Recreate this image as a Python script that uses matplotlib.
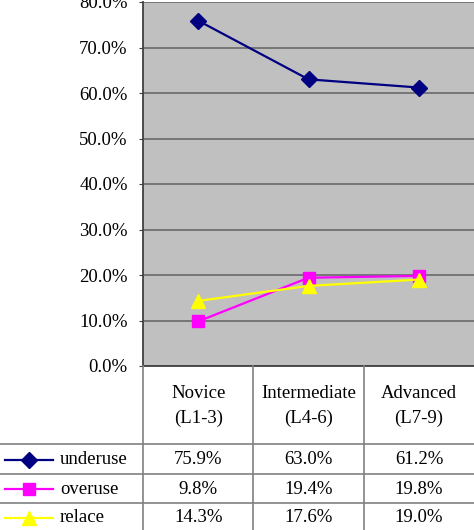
import matplotlib
matplotlib.use("Agg")
import matplotlib.pyplot as plt
from matplotlib.lines import Line2D

categories = ["Novice\n(L1-3)", "Intermediate\n(L4-6)", "Advanced\n(L7-9)"]
series_names = ["underuse", "overuse", "relace"]
underuse = [75.9, 63.0, 61.2]
overuse = [9.8, 19.4, 19.8]
relace = [14.3, 17.6, 19.0]
yticks = [0, 10, 20, 30, 40, 50, 60, 70, 80]

series = [underuse, overuse, relace]
colors = ["#000080", "#FF00FF", "#FFFF00"]
markers = ["D", "s", "^"]
msizes = [8, 9, 10]

W, H = 474, 530
fig = plt.figure(figsize=(W / 100, H / 100), dpi=100)
plt.rcParams['font.family'] = ['Liberation Serif', 'DejaVu Serif']
FS = 13.5

# plot area in pixel coordinates
left, right, top, bottom = 143, 474, 2, 366
ax = fig.add_axes([left / W, 1 - bottom / H, (right - left) / W, (bottom - top) / H])
ax.set_facecolor("#C0C0C0")
ax.set_xlim(-0.5, 2.5)
ax.set_ylim(0, 80)
ax.set_yticks(yticks)
ax.set_yticklabels([f"{v:.1f}%" for v in yticks], fontsize=FS)
ax.set_xticks([])
ax.yaxis.grid(True, color="#707070", linewidth=1.3)
ax.set_axisbelow(True)
ax.tick_params(axis="y", length=3, color="#404040", pad=8)
for s in ["top", "right"]:
    ax.spines[s].set_visible(False)
ax.spines["left"].set_color("#404040")
ax.spines["bottom"].set_color("#404040")
ax.spines["left"].set_linewidth(1.3)
ax.spines["bottom"].set_linewidth(1.3)

x = list(range(len(categories)))
for vals, c, m, ms in zip(series, colors, markers, msizes):
    ax.plot(x, vals, color=c, marker=m, markersize=ms, linewidth=1.6,
            markeredgecolor=c, clip_on=False, zorder=3)

# table overlay in pixel coordinates
ov = fig.add_axes([0, 0, 1, 1])
ov.set_xlim(0, W)
ov.set_ylim(H, 0)
ov.axis("off")
ov.patch.set_alpha(0)

gcol = "#808080"
col_edges = [143, 253.5, 364, 474]
row_lines = [444, 474, 503]
for yl in row_lines:
    ov.plot([0, W], [yl, yl], color=gcol, linewidth=1.2)
for xe in col_edges[:-1]:
    ov.plot([xe, xe], [bottom, H], color=gcol, linewidth=1.2)

centers = [(col_edges[i] + col_edges[i + 1]) / 2 for i in range(3)]
for cx, cat in zip(centers, categories):
    ov.text(cx, 406, cat, ha="center", va="center", fontsize=FS, linespacing=1.6)

row_centers = [460, 489, 518]
for rc, name, vals, c, m, ms in zip(row_centers, series_names, series, colors, markers, msizes):
    ov.add_line(Line2D([5, 53], [rc, rc], color=c, linewidth=1.6))
    ov.add_line(Line2D([29], [rc], color=c, marker=m, markersize=ms, markeredgecolor=c))
    ov.text(60, rc, name, ha="left", va="center", fontsize=FS)
    for cx, v in zip(centers, vals):
        ov.text(cx, rc, f"{v:.1f}%", ha="center", va="center", fontsize=FS)

fig.savefig("out.png", dpi=100)
